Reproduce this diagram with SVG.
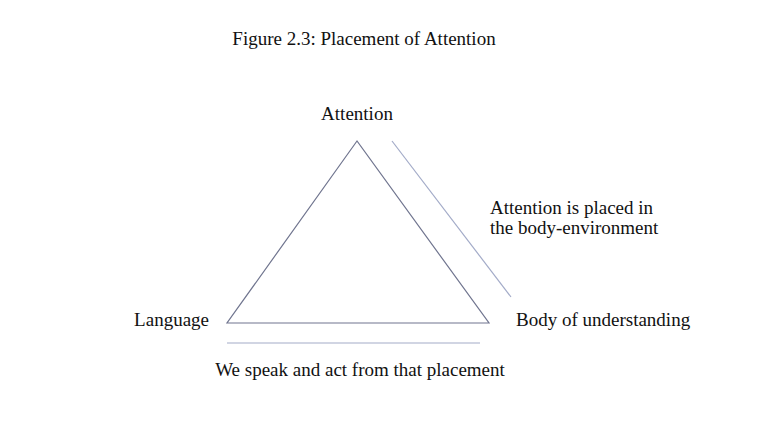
<svg xmlns="http://www.w3.org/2000/svg" width="768" height="432" viewBox="0 0 768 432">
<style>
text{font-family:"Liberation Serif","Times New Roman",serif;font-size:19px;fill:#111}
.tri{fill:none;stroke:#70758f;stroke-width:1.2}
.par{stroke:#a3abc8;stroke-width:1.2;fill:none}
</style>
<rect width="768" height="432" fill="#fff"/>
<text x="364" y="45" text-anchor="middle">Figure 2.3: Placement of Attention</text>
<g id="triangle"><polygon class="tri" points="357,141 227,323 489,323"/></g>
<g id="connectors">
<line class="par" x1="392" y1="141" x2="511" y2="297"/>
<line class="par" x1="227" y1="343" x2="480" y2="343"/>
</g>
<g id="attention"><text x="357" y="120" text-anchor="middle">Attention</text></g>
<g id="language"><text x="209" y="326" text-anchor="end">Language</text></g>
<g id="body"><text x="516" y="326">Body of understanding</text></g>
<g id="label-right"><text x="490" y="214">Attention is placed in</text><text x="490" y="234">the body-environment</text></g>
<g id="label-bottom"><text x="360" y="376" text-anchor="middle">We speak and act from that placement</text></g>
</svg>
